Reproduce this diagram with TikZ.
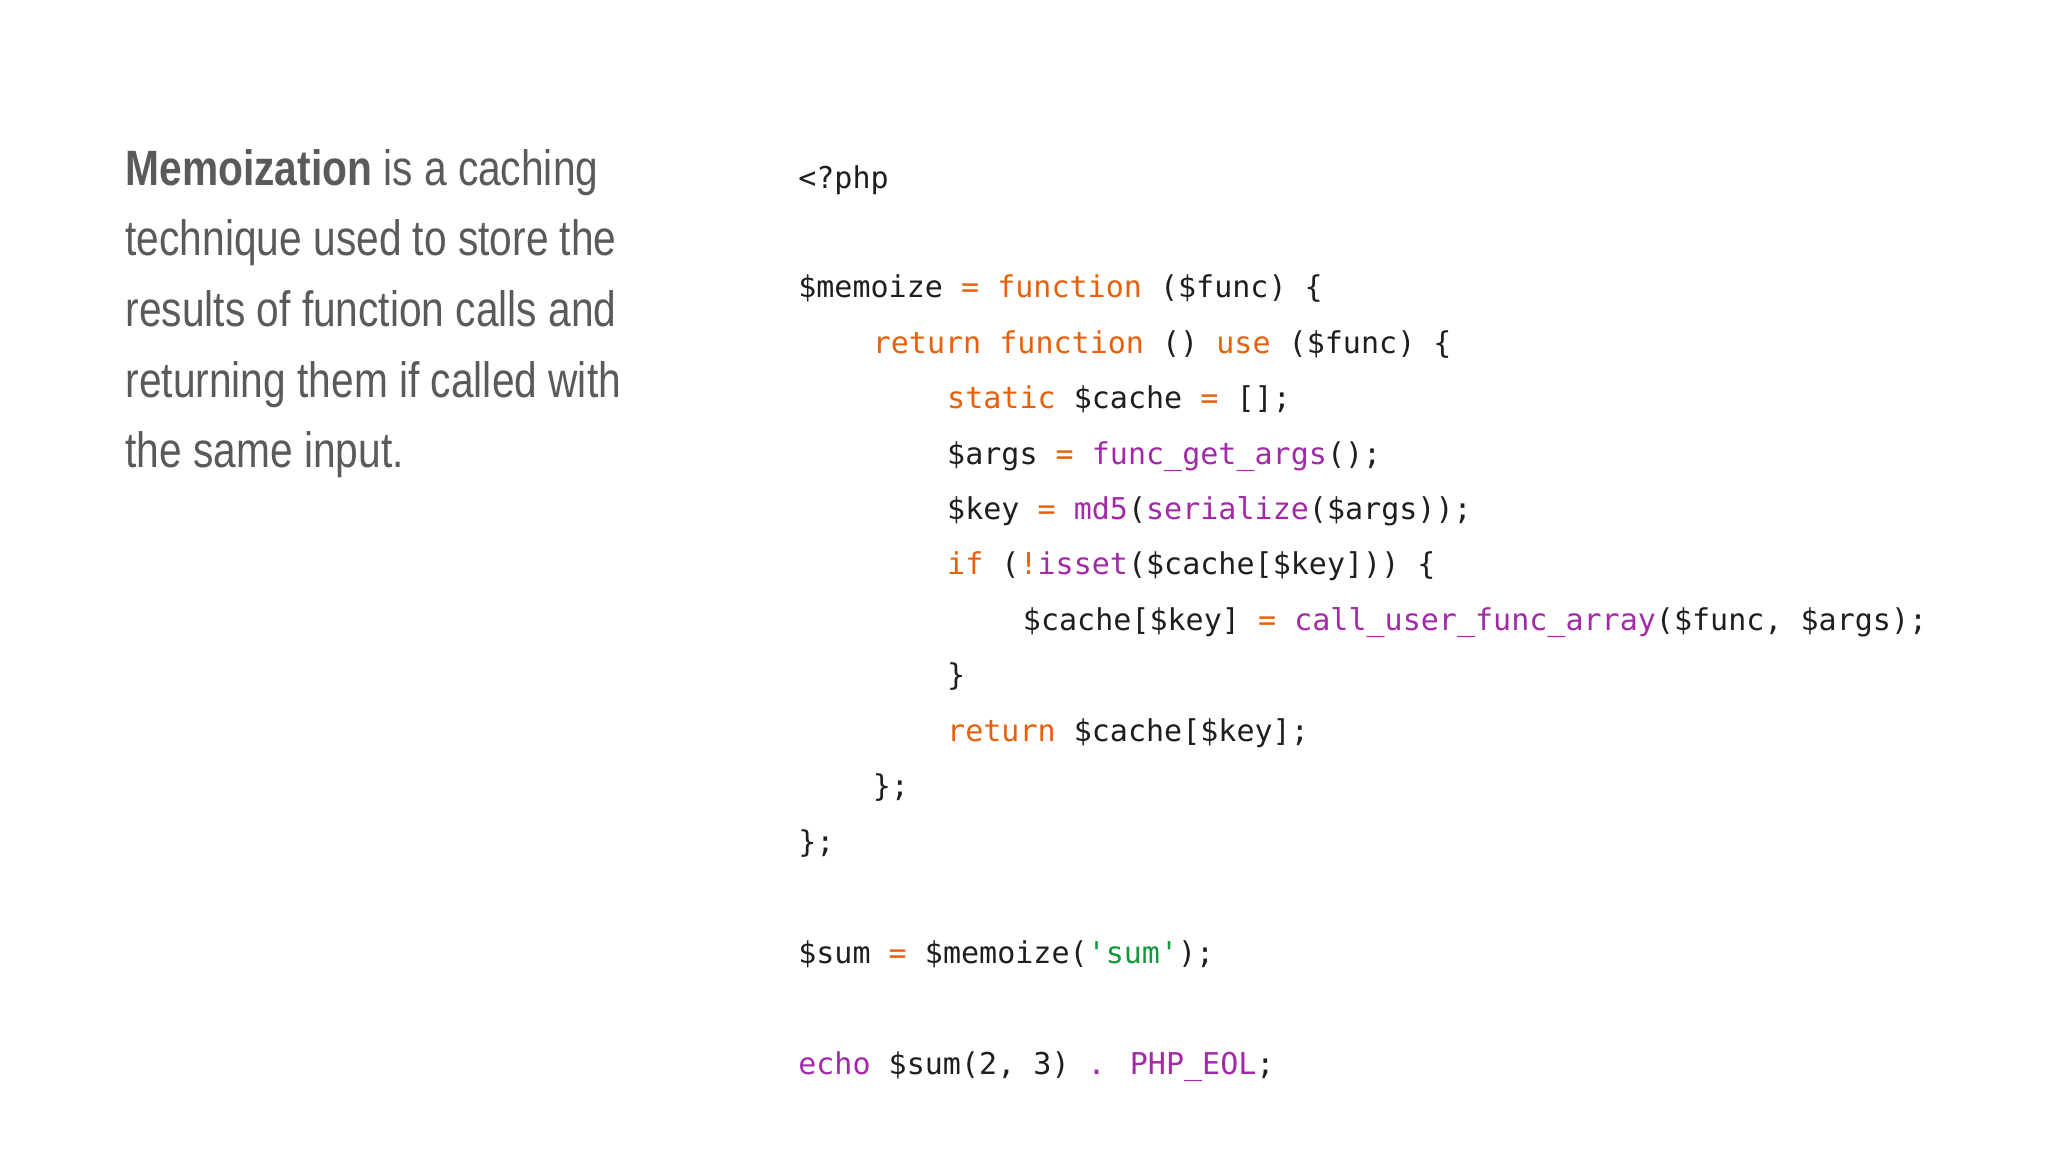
\documentclass[tikz,border=0pt]{standalone}
\usepackage{fontspec}
\newfontfamily\lefttext[FakeStretch=0.82]{Liberation Sans}
\newfontfamily\code{DejaVu Sans Mono}
\definecolor{kw}{HTML}{E8600A}
\definecolor{fn}{HTML}{A22AA8}
\definecolor{st}{HTML}{109A3C}
\definecolor{tx}{HTML}{1E1E1E}
\definecolor{gr}{HTML}{5A5A5A}
\newcommand{\K}[1]{\textcolor{kw}{#1}}
\newcommand{\F}[1]{\textcolor{fn}{#1}}
\newcommand{\Sg}[1]{\textcolor{st}{#1}}
\tikzset{cl/.style={anchor=base west,inner sep=0pt,font=\code\fontsize{23}{23}\selectfont,text=tx},
lt/.style={anchor=base west,inner sep=0pt,font=\lefttext\fontsize{38}{38}\selectfont,text=gr}}
\begin{document}
\begin{tikzpicture}[x=1pt,y=-1pt]
\useasboundingbox (0,0) rectangle (1568,882);
\node[lt] (l1) at (96,142) {\textbf{Memoization} is a caching};
\node[lt] (l2) at (96,196) {technique used to store the};
\node[lt] (l3) at (96,250) {results of function calls and};
\node[lt] (l4) at (96,304) {returning them if called with};
\node[lt] (l5) at (96,358) {the same input.};
\node[cl] (c1) at (611,144) {<?php};
\node[cl] (c2) at (611,228) {\$memoize \K{=} \K{function} (\$func) \{};
\node[cl] (c3) at (668,271) {\K{return} \K{function} () \K{use} (\$func) \{};
\node[cl] (c4) at (725,313) {\K{static} \$cache \K{=} [];};
\node[cl] (c5) at (725,356) {\$args \K{=} \F{func\_get\_args}();};
\node[cl] (c6) at (725,398) {\$key \K{=} \F{md5}(\F{serialize}(\$args));};
\node[cl] (c7) at (725,440) {\K{if} (\K{!}\F{isset}(\$cache[\$key])) \{};
\node[cl] (c8) at (783,483) {\$cache[\$key] \K{=} \F{call\_user\_func\_array}(\$func, \$args);};
\node[cl] (c9) at (725,525) {\}};
\node[cl] (c10) at (725,568) {\K{return} \$cache[\$key];};
\node[cl] (c11) at (668,610) {\};};
\node[cl] (c12) at (611,653) {\};};
\node[cl] (c13) at (611,738) {\$sum \K{=} \$memoize(\Sg{\char"27 sum\char"27});};
\node[cl] (c14) at (611,823) {\F{echo} \$sum(2, 3) \F{.} \F{PHP\_EOL};};
\end{tikzpicture}
\end{document}
